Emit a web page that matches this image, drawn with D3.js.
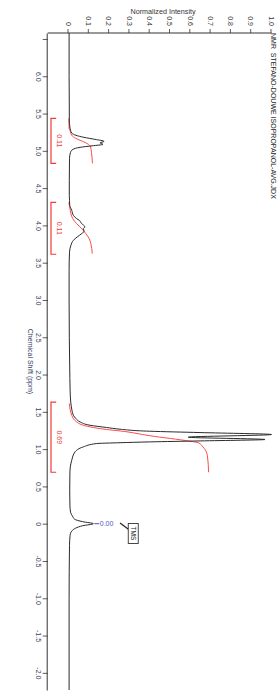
<!DOCTYPE html>
<html>
<head>
<meta charset="utf-8">
<script src="https://cdn.jsdelivr.net/npm/d3@7"></script>
<style>
  html, body { margin: 0; padding: 0; background: #fff; }
  svg { display: block; font-family: "Liberation Sans", Arial, sans-serif; }
</style>
</head>
<body>
<svg id="chart" width="280" height="698"></svg>
<script>
// spectrum: chemical shift (ppm) and normalized intensity
const shiftPpm = [6.58, 6.0, 5.6, 5.40, 5.335, 5.275, 5.235, 5.208, 5.181, 5.154, 5.127, 5.107, 5.087, 5.067, 5.047, 5.020, 4.980, 4.90,
  4.6, 4.40, 4.337, 4.27, 4.202, 4.135, 4.091, 4.068, 4.024, 3.979, 3.957, 3.921, 3.89, 3.845, 3.80, 3.733, 3.64,
  3.4, 3.0, 2.5, 2.1, 1.79, 1.633, 1.521, 1.454, 1.408, 1.365, 1.32, 1.29, 1.267, 1.24, 1.222, 1.196, 1.16, 1.129,
  1.11, 1.097, 1.086, 1.075, 1.03, 0.962, 0.851, 0.694, 0.45, 0.25, 0.154, 0.1, 0.06, 0.027, 0.0, -0.027, -0.06,
  -0.1, -0.154, -0.29, -1.0, -2.23];
const shiftInt = [0.003, 0.003, 0.004, 0.004, 0.006, 0.01, 0.017, 0.037, 0.076, 0.13, 0.175, 0.155, 0.17, 0.116, 0.057, 0.022, 0.01, 0.005,
  0.004, 0.004, 0.005, 0.006, 0.016, 0.024, 0.04, 0.053, 0.065, 0.081, 0.073, 0.077, 0.065, 0.043, 0.024, 0.012, 0.005,
  0.003, 0.003, 0.004, 0.006, 0.008, 0.011, 0.017, 0.024, 0.037, 0.057, 0.106, 0.188, 0.254, 0.40, 0.648, 1.0, 0.59, 0.968,
  0.648, 0.40, 0.254, 0.139, 0.073, 0.032, 0.016, 0.007, 0.006, 0.007, 0.01, 0.02, 0.03, 0.07, 0.122, 0.07, 0.035,
  0.016, 0.008, 0.005, 0.003, 0.003];

// integrals
const integralRanges = [[5.436, 4.832], [4.31, 3.613], [1.629, 0.69]];
const integralLabels = ["0.11", "0.11", "0.69"];
const integralPpm = [
  [5.436, 5.30, 5.275, 5.208, 5.168, 5.141, 5.114, 5.087, 5.051, 4.98, 4.832],
  [4.31, 4.225, 4.091, 4.024, 3.957, 3.89, 3.823, 3.756, 3.622],
  [1.611, 1.454, 1.365, 1.32, 1.29, 1.263, 1.244, 1.18, 1.106, 1.086, 1.03, 0.985, 0.895, 0.69]
];
const integralInt = [
  [0.002, 0.003, 0.007, 0.016, 0.035, 0.057, 0.08, 0.098, 0.109, 0.113, 0.118],
  [0.002, 0.007, 0.021, 0.04, 0.065, 0.085, 0.102, 0.11, 0.117],
  [0.004, 0.016, 0.04, 0.073, 0.122, 0.188, 0.254, 0.40, 0.598, 0.64, 0.662, 0.675, 0.685, 0.69]
];

// peak label + annotation
const peakPpm = [0.0];
const peakInt = [0.122];
const peakText = ["0.00"];
const noteText = "TMS";
const notePpm = -0.131, noteInt = 0.319;

// ticks
const ppmTicks = [6.5, 6.0, 5.5, 5.0, 4.5, 4.0, 3.5, 3.0, 2.5, 2.0, 1.5, 1.0, 0.5, 0, -0.5, -1.0, -1.5, -2.0];
const ppmTickLabels = ["", "6.0", "5.5", "5.0", "4.5", "4.0", "3.5", "3.0", "2.5", "2.0", "1.5", "1.0", "0.5", "0", "-0.5", "-1.0", "-1.5", "-2.0"];
const intTicks = [0, 0.1, 0.2, 0.3, 0.4, 0.5, 0.6, 0.7, 0.8, 0.9, 1.0];
const intTickLabels = ["0", "0.1", "0.2", "0.3", "0.4", "0.5", "0.6", "0.7", "0.8", "0.9", "1.0"];

const title = "NMR  STEFANO-DOUWE ISOPROPANOL-AVG.JDX";

// chart is drawn in its own frame (698 x 280) then turned a quarter clockwise
const W = 698, H = 280;
const svg = d3.select("#chart");
const g = svg.append("g").attr("transform", `translate(${H},0) rotate(90)`);

const x = d3.scaleLinear().domain([6.58, -2.23]).range([33, 690]);
const y = d3.scaleLinear().domain([0, 1]).range([211.5, 8.5]);
const axisLeftX = 33;
const axisBottomY = 232.3;
const ink = "#333";

// intensity axis (left in frame = top on screen)
const yAx = g.append("g").attr("transform", `translate(${axisLeftX},0)`);
yAx.call(d3.axisLeft(y).tickValues(d3.range(0, 1.001, 0.01)).tickSize(1.5).tickFormat(""));
yAx.call(d3.axisLeft(y).tickValues(d3.range(0.05, 1, 0.1)).tickSize(2.5).tickFormat(""));
yAx.call(d3.axisLeft(y).tickValues(intTicks).tickSize(4).tickPadding(3)
  .tickFormat((d, i) => intTickLabels[i]));
yAx.selectAll(".domain").remove();
yAx.selectAll("line").attr("stroke", ink).attr("stroke-width", 0.8);
yAx.selectAll("text").attr("fill", ink).attr("font-size", 7).attr("font-family", "Liberation Sans, Arial, sans-serif");
g.append("line")
  .attr("x1", axisLeftX).attr("x2", axisLeftX)
  .attr("y1", axisBottomY).attr("y2", y(1))
  .attr("stroke", ink).attr("stroke-width", 1);

// chemical shift axis (bottom in frame = left on screen)
const xAx = g.append("g").attr("transform", `translate(0,${axisBottomY})`);
xAx.call(d3.axisBottom(x).tickValues(d3.range(-2.2, 6.56, 0.05)).tickSize(3).tickFormat(""));
xAx.call(d3.axisBottom(x).tickValues(ppmTicks).tickSize(5).tickPadding(1.5).tickSizeOuter(0)
  .tickFormat((d, i) => ppmTickLabels[i]));
xAx.selectAll(".domain").attr("stroke", ink).attr("stroke-width", 1);
xAx.selectAll("line").attr("stroke", ink).attr("stroke-width", 0.8);
xAx.selectAll("text").attr("fill", "#3a3f55").attr("font-size", 7).attr("font-family", "Liberation Sans, Arial, sans-serif");

// axis titles
g.append("text")
  .attr("transform", `translate(11.7,${(8.5 + axisBottomY) / 2 - 3.5}) rotate(-90)`)
  .attr("text-anchor", "middle").attr("dy", "0.35em")
  .attr("font-size", 7.2).attr("fill", ink)
  .text("Normalized Intensity");
g.append("text")
  .attr("x", (33 + 690) / 2).attr("y", 250).attr("dy", "0.35em")
  .attr("text-anchor", "middle").attr("font-size", 7).attr("fill", "#2f3b66")
  .text("Chemical Shift (ppm)");

// title
g.append("text")
  .attr("x", 33).attr("y", 7).attr("dy", "0.35em")
  .attr("font-size", 7).attr("fill", "#222")
  .style("white-space", "pre")
  .text(title);

// integral curves and brackets
const red = "#ff4a4a";
const iline = d3.line().x(d => x(d[0])).y(d => y(d[1])).curve(d3.curveMonotoneX);
integralPpm.forEach((pp, k) => {
  g.append("path")
    .datum(pp.map((p, i) => [p, integralInt[k][i]]))
    .attr("d", iline)
    .attr("fill", "none").attr("stroke", red).attr("stroke-width", 1);
});
const brY = axisBottomY - 3.3, capY = axisBottomY - 8.5;
integralRanges.forEach((r, k) => {
  const x0 = x(r[0]), x1 = x(r[1]);
  g.append("path")
    .attr("d", `M${x0},${capY}V${brY}H${x1}V${capY}`)
    .attr("fill", "none").attr("stroke", "#f03a3a").attr("stroke-width", 1.2);
  g.append("text")
    .attr("x", (x0 + x1) / 2).attr("y", axisBottomY - 11.7).attr("dy", "0.35em")
    .attr("text-anchor", "middle").attr("font-size", 7).attr("fill", "#f03a3a")
    .text(integralLabels[k]);
});

// spectrum
const sline = d3.line().x(d => x(d[0])).y(d => y(d[1])).curve(d3.curveMonotoneX);
g.append("path")
  .datum(shiftPpm.map((p, i) => [p, shiftInt[i]]))
  .attr("d", sline)
  .attr("fill", "none").attr("stroke", "#2a2a2a").attr("stroke-width", 1);

// peak labels
const blue = "#5252c8";
peakPpm.forEach((p, i) => {
  const px = x(p), py = y(peakInt[i]);
  g.append("line")
    .attr("x1", px).attr("x2", px).attr("y1", py - 1).attr("y2", py - 6)
    .attr("stroke", blue).attr("stroke-width", 1);
  g.append("text")
    .attr("transform", `translate(${px},${py - 6.5}) rotate(-90)`)
    .attr("dy", "0.35em").attr("font-size", 7).attr("fill", blue)
    .text(peakText[i]);
});

// TMS note
const nx = x(notePpm), ny = y(noteInt);
g.append("line")
  .attr("x1", x(0.01)).attr("y1", y(0.254))
  .attr("x2", x(-0.074)).attr("y2", y(0.295))
  .attr("stroke", "#222").attr("stroke-width", 1.2);
g.append("rect")
  .attr("x", nx - 10).attr("y", ny - 5).attr("width", 20).attr("height", 10)
  .attr("fill", "#fff").attr("stroke", "#333").attr("stroke-width", 0.9);
g.append("text")
  .attr("x", nx).attr("y", ny).attr("dy", "0.35em").attr("text-anchor", "middle")
  .attr("font-size", 6.5).attr("fill", "#222")
  .text(noteText);
</script>
</body>
</html>
